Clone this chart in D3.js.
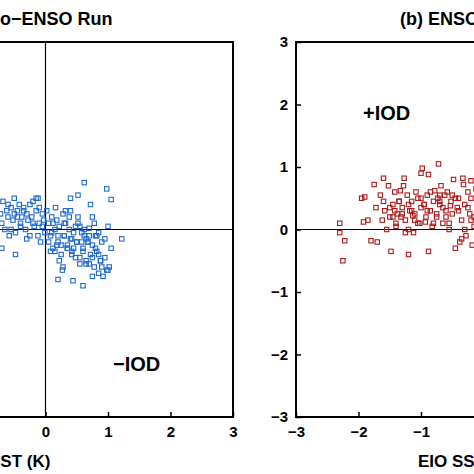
<!DOCTYPE html><html><head><meta charset="utf-8"><script src="https://cdn.jsdelivr.net/npm/d3@7"></script>
<style>body{margin:0;background:#fff}text{font-family:"Liberation Sans",Arial,sans-serif}</style></head><body>
<svg id="c" width="474" height="474"></svg>
<script>
const ticks=[-3,-2,-1,0,1,2,3];
const blueX=[-0.72,-0.7,-0.68,-0.65,-0.62,-0.6,-0.58,-0.55,-0.52,-0.5,-0.48,-0.45,-0.42,-0.4,-0.38,-0.35,-0.32,-0.3,-0.28,-0.25,-0.22,-0.2,-0.18,-0.15,-0.12,-0.1,-0.08,-0.05,-0.03,-0.01,-0.7,-0.6,-0.5,-0.4,-0.3,-0.2,-0.1,-0.55,-0.45,-0.35,-0.25,-0.15,-0.05,-0.48,-0.12,0.02,0.05,0.08,0.1,0.12,0.15,0.18,0.2,0.22,0.25,0.28,0.3,0.32,0.35,0.38,0.4,0.42,0.45,0.48,0.5,0.52,0.55,0.58,0.6,0.62,0.65,0.68,0.7,0.72,0.75,0.78,0.8,0.82,0.85,0.88,0.9,0.95,1.0,1.05,1.22,0.05,0.1,0.15,0.2,0.25,0.3,0.35,0.4,0.45,0.5,0.55,0.6,0.65,0.7,0.75,0.8,0.85,0.9,0.95,1.0,0.12,0.22,0.32,0.42,0.52,0.62,0.72,0.82,0.92,1.02,0.18,0.28,0.38,0.48,0.58,0.68,0.78,0.88,0.98,0.08,0.2,0.3,0.42,0.55,0.65,0.75,0.85,0.44,0.35,0.6,0.7,0.27,0.16,0.75,0.62,0.52,0.4,0.98,1.05];
const blueY=[0.25,0.1,0.45,0.0,0.3,0.2,-0.1,0.35,0.15,0.5,-0.05,0.3,0.4,0.1,0.2,0.35,0.0,0.25,0.15,-0.1,0.2,0.45,0.05,0.3,0.5,0.1,-0.2,0.25,0.15,-0.05,-0.3,0.4,0.25,0.05,-0.15,0.1,0.35,0.0,0.2,0.3,0.4,0.5,0.05,-0.4,-0.1,0.3,0.1,-0.1,0.2,-0.3,0.0,0.15,-0.2,0.05,-0.4,0.25,-0.1,0.1,-0.25,0.0,0.3,-0.15,-0.3,0.05,-0.2,0.1,-0.45,-0.05,-0.3,0.0,-0.55,-0.2,-0.1,-0.4,-0.25,-0.6,-0.1,-0.35,-0.05,-0.5,-0.2,-0.15,0.05,-0.3,-0.15,-0.2,-0.05,-0.35,-0.1,-0.25,0.1,-0.3,-0.15,-0.05,-0.2,0.05,-0.35,-0.15,0.02,-0.45,-0.3,-0.7,-0.6,-0.45,-0.65,0.1,-0.5,0.3,-0.4,0.2,-0.1,0.4,-0.1,-0.75,-0.6,-0.25,-0.6,0.2,-0.45,-0.2,-0.2,0.1,-0.5,-0.65,-0.35,-0.8,-0.1,-0.35,-0.55,-0.5,-0.75,-0.4,-0.82,-0.3,-0.9,-0.55,-0.65,0.35,0.2,0.75,0.55,0.5,0.65,0.48,0.32,0.07,0.12];
const redX=[-2.3,-2.3,-2.25,-2.22,-1.95,-1.92,-1.9,-1.85,-1.8,-1.75,-1.72,-1.7,-1.65,-1.62,-1.6,-1.58,-1.55,-1.52,-1.5,-1.48,-1.45,-1.42,-1.4,-1.38,-1.35,-1.32,-1.3,-1.28,-1.25,-1.22,-1.2,-1.18,-1.15,-1.12,-1.1,-1.08,-1.05,-1.02,-1.0,-0.98,-0.95,-0.92,-0.9,-0.88,-0.85,-0.82,-0.8,-0.78,-0.75,-0.72,-0.7,-0.68,-0.65,-0.62,-0.6,-0.58,-0.55,-0.52,-0.5,-0.48,-0.45,-0.42,-0.4,-0.38,-0.35,-0.32,-0.3,-0.28,-0.25,-0.22,-0.2,-0.18,-0.15,-0.12,-0.1,-1.5,-1.4,-1.3,-1.2,-1.1,-1.0,-0.9,-0.8,-0.7,-0.6,-0.5,-0.4,-0.3,-0.2,-1.45,-1.35,-1.25,-1.15,-1.05,-0.95,-0.85,-0.75,-0.65,-0.55,-0.45,-0.35,-0.25,-0.15,-1.6,-1.33,-1.13,-0.93,-0.73,-0.53,-0.33,-1.0,-0.88,-0.7,-1.2,-0.2,-0.1,-1.42,-1.27];
const redY=[0.1,-0.05,-0.5,-0.18,0.5,0.12,0.52,0.15,-0.18,0.72,0.35,-0.2,0.55,0.15,0.45,0.3,0.0,0.7,0.2,-0.35,0.4,0.6,0.1,0.25,0.45,0.2,0.35,0.7,0.15,0.55,0.0,0.3,0.45,-0.05,0.25,0.6,0.5,0.1,0.35,0.98,0.4,0.2,0.55,0.88,0.3,0.05,0.45,0.62,0.2,1.05,0.4,0.7,0.1,0.55,0.3,0.6,0.0,0.45,0.25,0.8,-0.3,0.35,0.5,-0.2,0.15,0.72,0.4,-0.1,0.6,0.25,0.5,-0.25,0.2,0.65,0.3,0.35,0.05,0.25,0.4,0.15,0.5,0.3,0.1,0.45,0.2,0.55,0.3,0.0,0.15,0.2,0.45,-0.05,0.3,0.1,0.4,0.6,0.25,0.35,0.1,0.5,-0.15,0.35,0.05,0.82,0.62,0.22,0.12,0.5,0.38,0.82,0.9,-0.35,0.55,-0.4,0.78,-0.15,0.3,0.82];
const svg=d3.select("#c");
const W=375,H=375,T0=42;
function panel(x0,xs,ys,color){
 const x=d3.scaleLinear([-3,3],[x0,x0+W]), y=d3.scaleLinear([-3,3],[T0+H,T0]);
 const g=svg.append("g");
 g.append("line").attr("x1",x(0)).attr("x2",x(0)).attr("y1",T0).attr("y2",T0+H).attr("stroke","#000").attr("stroke-width",1.2);
 g.append("line").attr("x1",x0).attr("x2",x0+W).attr("y1",y(0)).attr("y2",y(0)).attr("stroke","#000").attr("stroke-width",1.2);
 g.selectAll("rect.p").data(xs.map((v,i)=>[v,ys[i]])).join("rect").attr("x",d=>x(d[0])-2.2).attr("y",d=>y(d[1])-2.2).attr("width",4.4).attr("height",4.4).attr("fill","none").attr("stroke",color).attr("stroke-width",1.1);
 const ax=g.append("g").attr("transform",`translate(0,${T0+H})`).call(d3.axisBottom(x).tickValues(ticks).tickSize(-5).tickPadding(9).tickFormat(d=>d<0?"\u2212"+(-d):d));
 const ay=g.append("g").attr("transform",`translate(${x0},0)`).call(d3.axisLeft(y).tickValues(ticks).tickSize(-5).tickPadding(8).tickFormat(d=>d<0?"\u2212"+(-d):d));
 [ax,ay].forEach(a=>{a.select(".domain").remove();a.selectAll("text").attr("font-size",15).attr("font-weight","bold").attr("fill","#000");a.selectAll("line").attr("stroke-width",1.5);});
 g.append("rect").attr("x",x0).attr("y",T0).attr("width",W).attr("height",H).attr("fill","none").attr("stroke","#000").attr("stroke-width",2);
}
panel(-142,blueX,blueY,"#1f6ad0");
panel(296,redX,redY,"#b01818");
svg.append("text").attr("x",-40).attr("y",25).attr("font-size",18).attr("font-weight","bold").text("(a) No\u2212ENSO Run");
svg.append("text").attr("x",400).attr("y",25).attr("font-size",18).attr("font-weight","bold").text("(b) ENSO Run");
svg.append("text").attr("x",113).attr("y",371).attr("font-size",20).attr("font-weight","bold").text("\u2212IOD");
svg.append("text").attr("x",363).attr("y",120).attr("font-size",20).attr("font-weight","bold").text("+IOD");
svg.append("text").attr("x",-45).attr("y",467).attr("font-size",17).attr("font-weight","bold").text("EIO SST (K)");
svg.append("text").attr("x",418).attr("y",467).attr("font-size",17).attr("font-weight","bold").text("EIO SST (K)");
</script></body></html>
